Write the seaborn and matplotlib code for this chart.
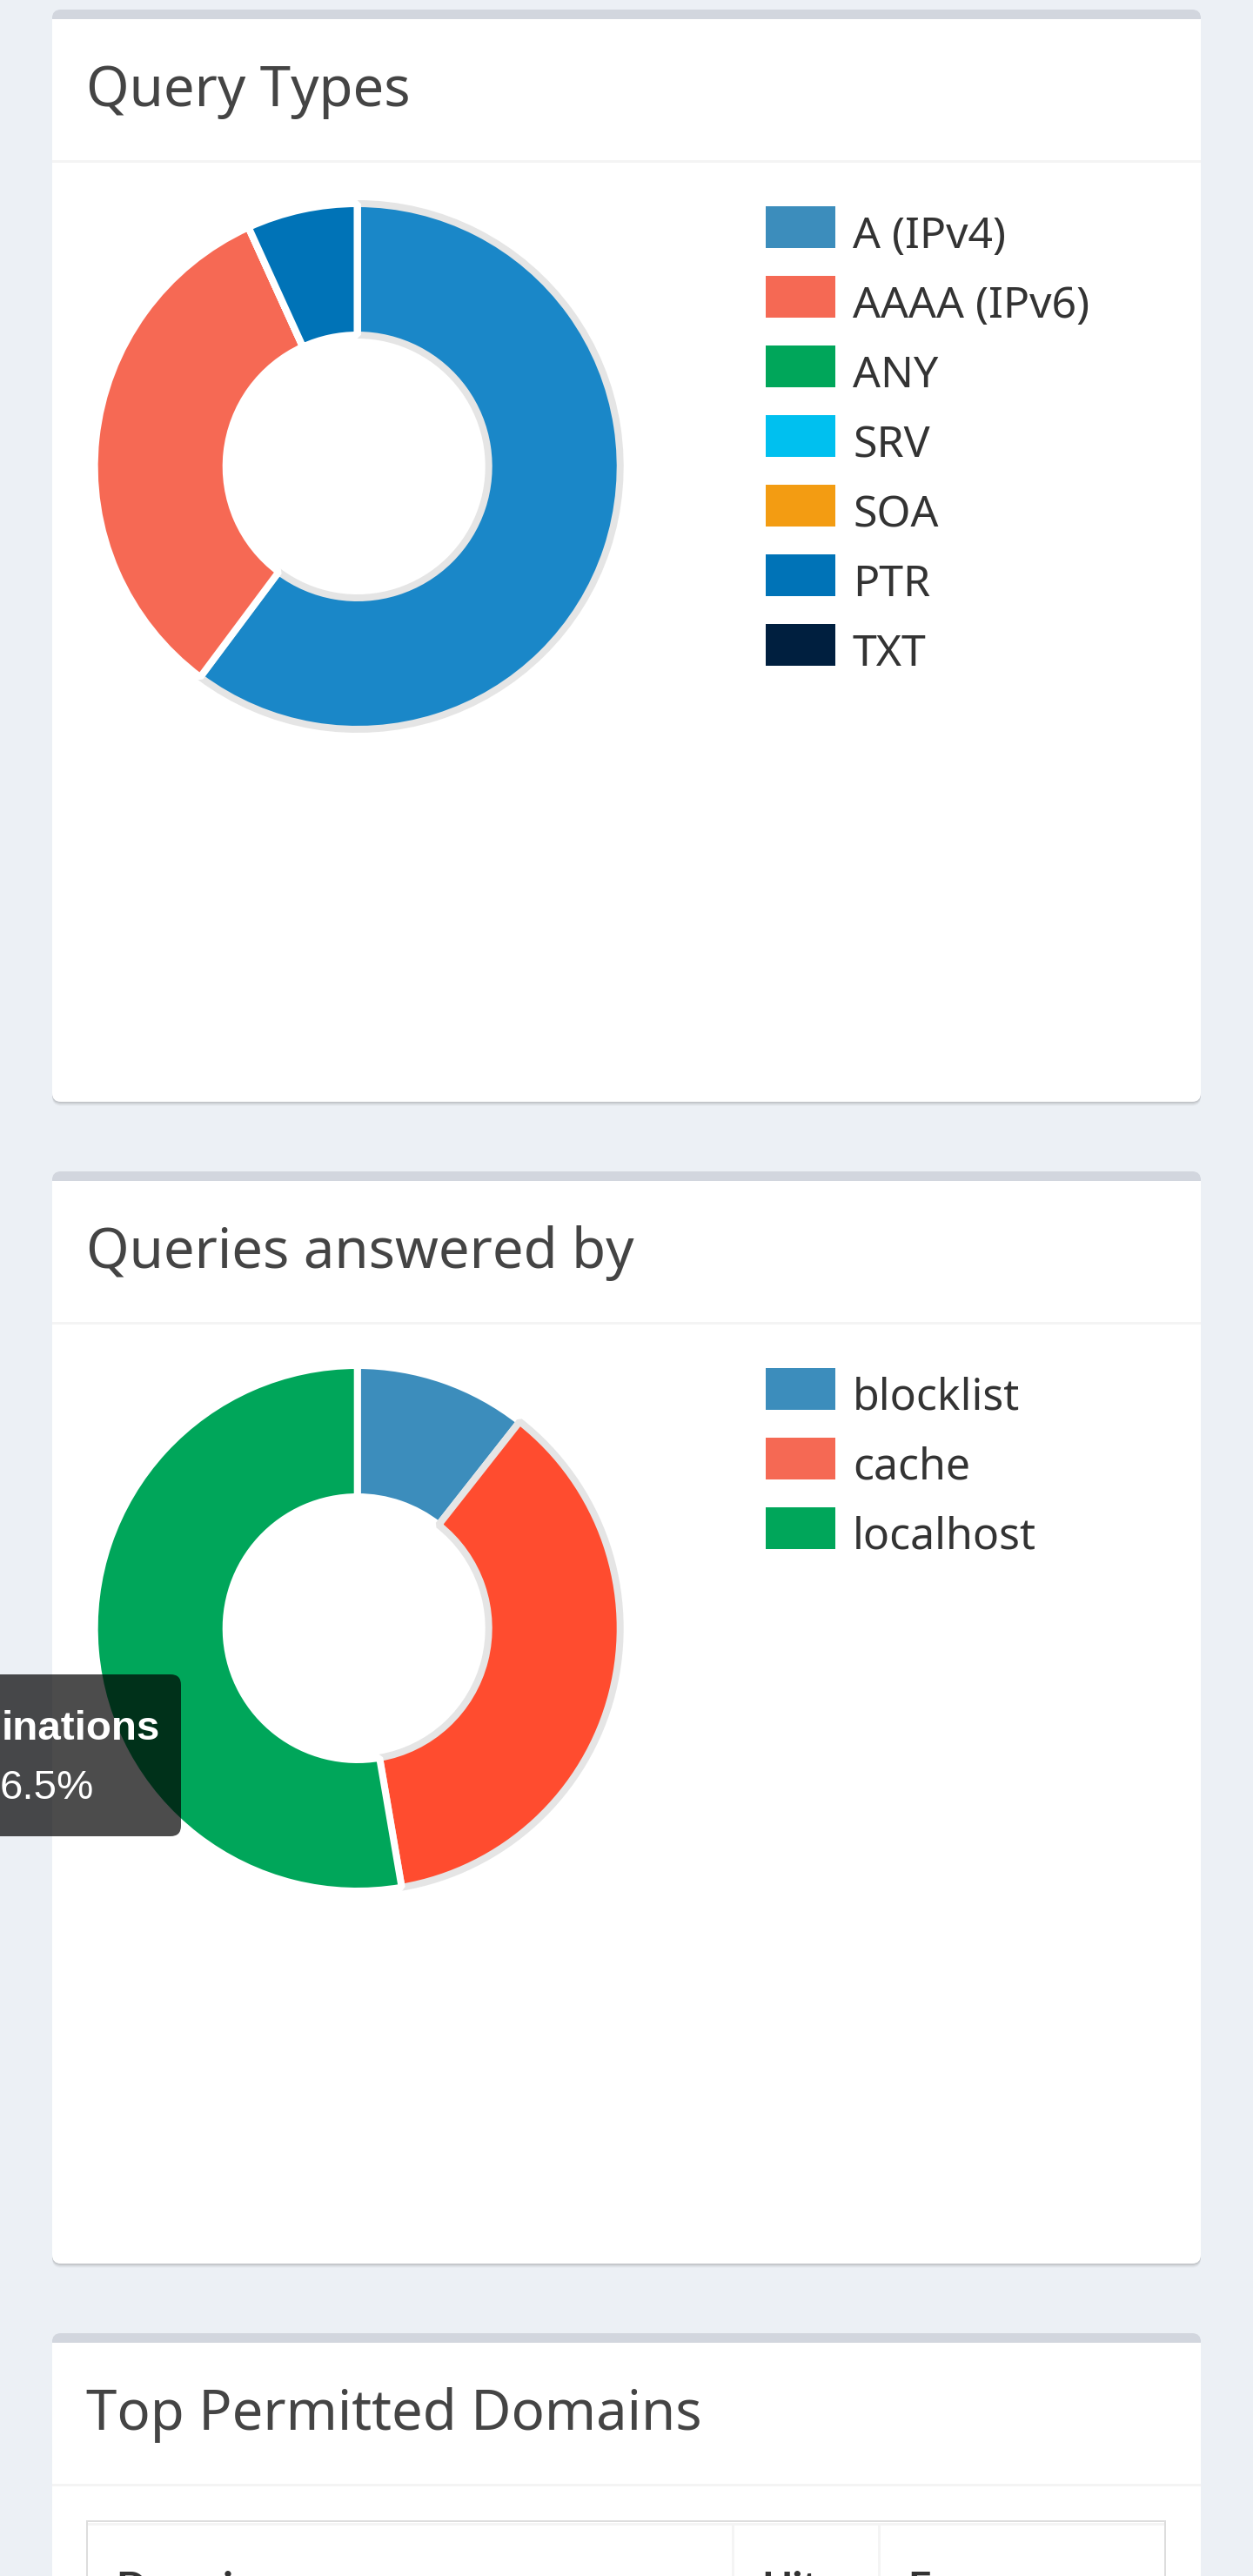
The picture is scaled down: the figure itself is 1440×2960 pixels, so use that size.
# Dashboard cards with two doughnut charts

import matplotlib.pyplot as plt
import seaborn as sns
from matplotlib.patches import FancyBboxPatch, Rectangle

# ==============================
# Data
# ==============================

query_labels = ["A (IPv4)", "AAAA (IPv6)", "ANY", "SRV", "SOA", "PTR", "TXT"]
query_values = [60.2, 33.0, 0, 0, 0, 6.8, 0]
query_colors = ["#3c8dbc", "#f56954", "#00a65a", "#00c0ef", "#f39c12", "#0073b7", "#001f3f"]
query_slices = ["#1a87c8", "#f66954", "#00a65a", "#00c0ef", "#f39c12", "#0073b7", "#001f3f"]

answer_labels = ["blocklist", "cache", "localhost"]
answer_values = [10.6, 36.7, 52.7]
answer_colors = ["#3c8dbc", "#f56954", "#00a65a"]
answer_slices = ["#3c8dbc", "#ff4c2f", "#00a65a"]

card_titles = ["Query Types", "Queries answered by", "Top Permitted Domains"]
table_headers = ["Domain", "Hits", "Frequency"]
tooltip_lines = ["inations", "6.5%"]

# ==============================
# Setup
# ==============================

W, H = 1440, 2960
CARD_STEP = 1335

sns.set_theme(style="white")
plt.rcParams["font.family"] = ["Noto Sans", "DejaVu Sans"]


def px(size):
    return size * 0.72


fig = plt.figure(figsize=(W / 100, H / 100), dpi=100, facecolor="#ecf0f5")

bg = fig.add_axes([0, 0, 1, 1], zorder=0)
bg.set_xlim(0, W)
bg.set_ylim(H, 0)
bg.axis("off")

top = fig.add_axes([0, 0, 1, 1], zorder=2)
top.set_xlim(0, W)
top.set_ylim(H, 0)
top.axis("off")
top.patch.set_alpha(0)


def rounded(ax, x0, y0, x1, y1, r, **kw):
    p = FancyBboxPatch((x0, y0), x1 - x0, y1 - y0,
                       boxstyle=f"round,pad=0,rounding_size={r}", linewidth=0, **kw)
    ax.add_patch(p)


def draw_card(y_top, y_bottom, title):
    # soft shadow under the card
    for off, a in [(5, 0.02), (4, 0.03), (3, 0.04), (2, 0.05), (1, 0.06)]:
        rounded(bg, 60, y_top + off, 1380, y_bottom + off, 10, facecolor="#000000", alpha=a)
    rounded(bg, 60, y_top, 1380, y_bottom, 10, facecolor="#d2d6de")
    bg.add_patch(Rectangle((60, y_top + 11), 1320, y_bottom - y_top - 40,
                           facecolor="white", linewidth=0))
    rounded(bg, 60, y_bottom - 40, 1380, y_bottom, 10, facecolor="white")
    bg.add_patch(Rectangle((60, y_top + 173), 1320, 2.5, facecolor="#f4f4f4", linewidth=0))
    bg.text(99, y_top + 111, title, fontsize=px(63.5), color="#444444", va="baseline")


def draw_donut(cy, values, colors, hover):
    cx = 410.7
    box = 330
    ax = fig.add_axes([(cx - box) / W, 1 - (cy + box) / H, 2 * box / W, 2 * box / H], zorder=1)
    wedges, _ = ax.pie(values, colors=colors, startangle=90, counterclock=False,
                       radius=302, wedgeprops=dict(width=151))
    for i, w in enumerate(wedges):
        w.set_edgecolor("#e5e5e5" if i == hover else "white")
        w.set_linewidth(px(8))
        w.set_joinstyle("bevel")
    ax.set_xlim(-box, box)
    ax.set_ylim(-box, box)
    ax.patch.set_alpha(0)


def draw_legend(y0, labels, colors):
    for i, (lab, col) in enumerate(zip(labels, colors)):
        y = y0 + i * 80
        bg.add_patch(Rectangle((880, y), 80, 48, facecolor=col, linewidth=0))
        bg.text(980, y + 48, lab, fontsize=px(50), color="#333333", va="baseline")


# ==============================
# Cards
# ==============================

draw_card(11, 1266, card_titles[0])
draw_donut(536, query_values, query_slices, 0)
draw_legend(237, query_labels, query_colors)

draw_card(11 + CARD_STEP, 1266 + CARD_STEP, card_titles[1])
draw_donut(536 + CARD_STEP, answer_values, answer_slices, 1)
draw_legend(237 + CARD_STEP, answer_labels, answer_colors)

draw_card(11 + 2 * CARD_STEP, H + 60, card_titles[2])

# ==============================
# Table cut off by the bottom edge
# ==============================

bg.add_patch(Rectangle((100, 2897), 1239, 70, facecolor="white", edgecolor="#dddddd", linewidth=px(2)))
bg.add_patch(Rectangle((101, 2899), 1237, 2.5, facecolor="#f4f4f4", linewidth=0))
for x in [841, 1009]:
    bg.add_patch(Rectangle((x, 2901), 2.5, 70, facecolor="#f4f4f4", linewidth=0))
for x, head in zip([133, 875, 1043], table_headers):
    bg.text(x, 2988, head, fontsize=px(46), color="#333333", fontweight="bold",
            family=["Lato"], va="baseline")

# ==============================
# Tooltip over the second chart
# ==============================

rounded(top, -30, 1924, 208, 2110, 12, facecolor="#000000", alpha=0.7)
top.text(2, 1999, tooltip_lines[0], fontsize=px(47.5), color="white", fontweight="bold",
         family=["Liberation Sans"], va="baseline")
top.text(0, 2067, tooltip_lines[1], fontsize=px(47.5), color="white",
         family=["Liberation Sans"], va="baseline")

fig.savefig("out.png", dpi=100, facecolor=fig.get_facecolor())
